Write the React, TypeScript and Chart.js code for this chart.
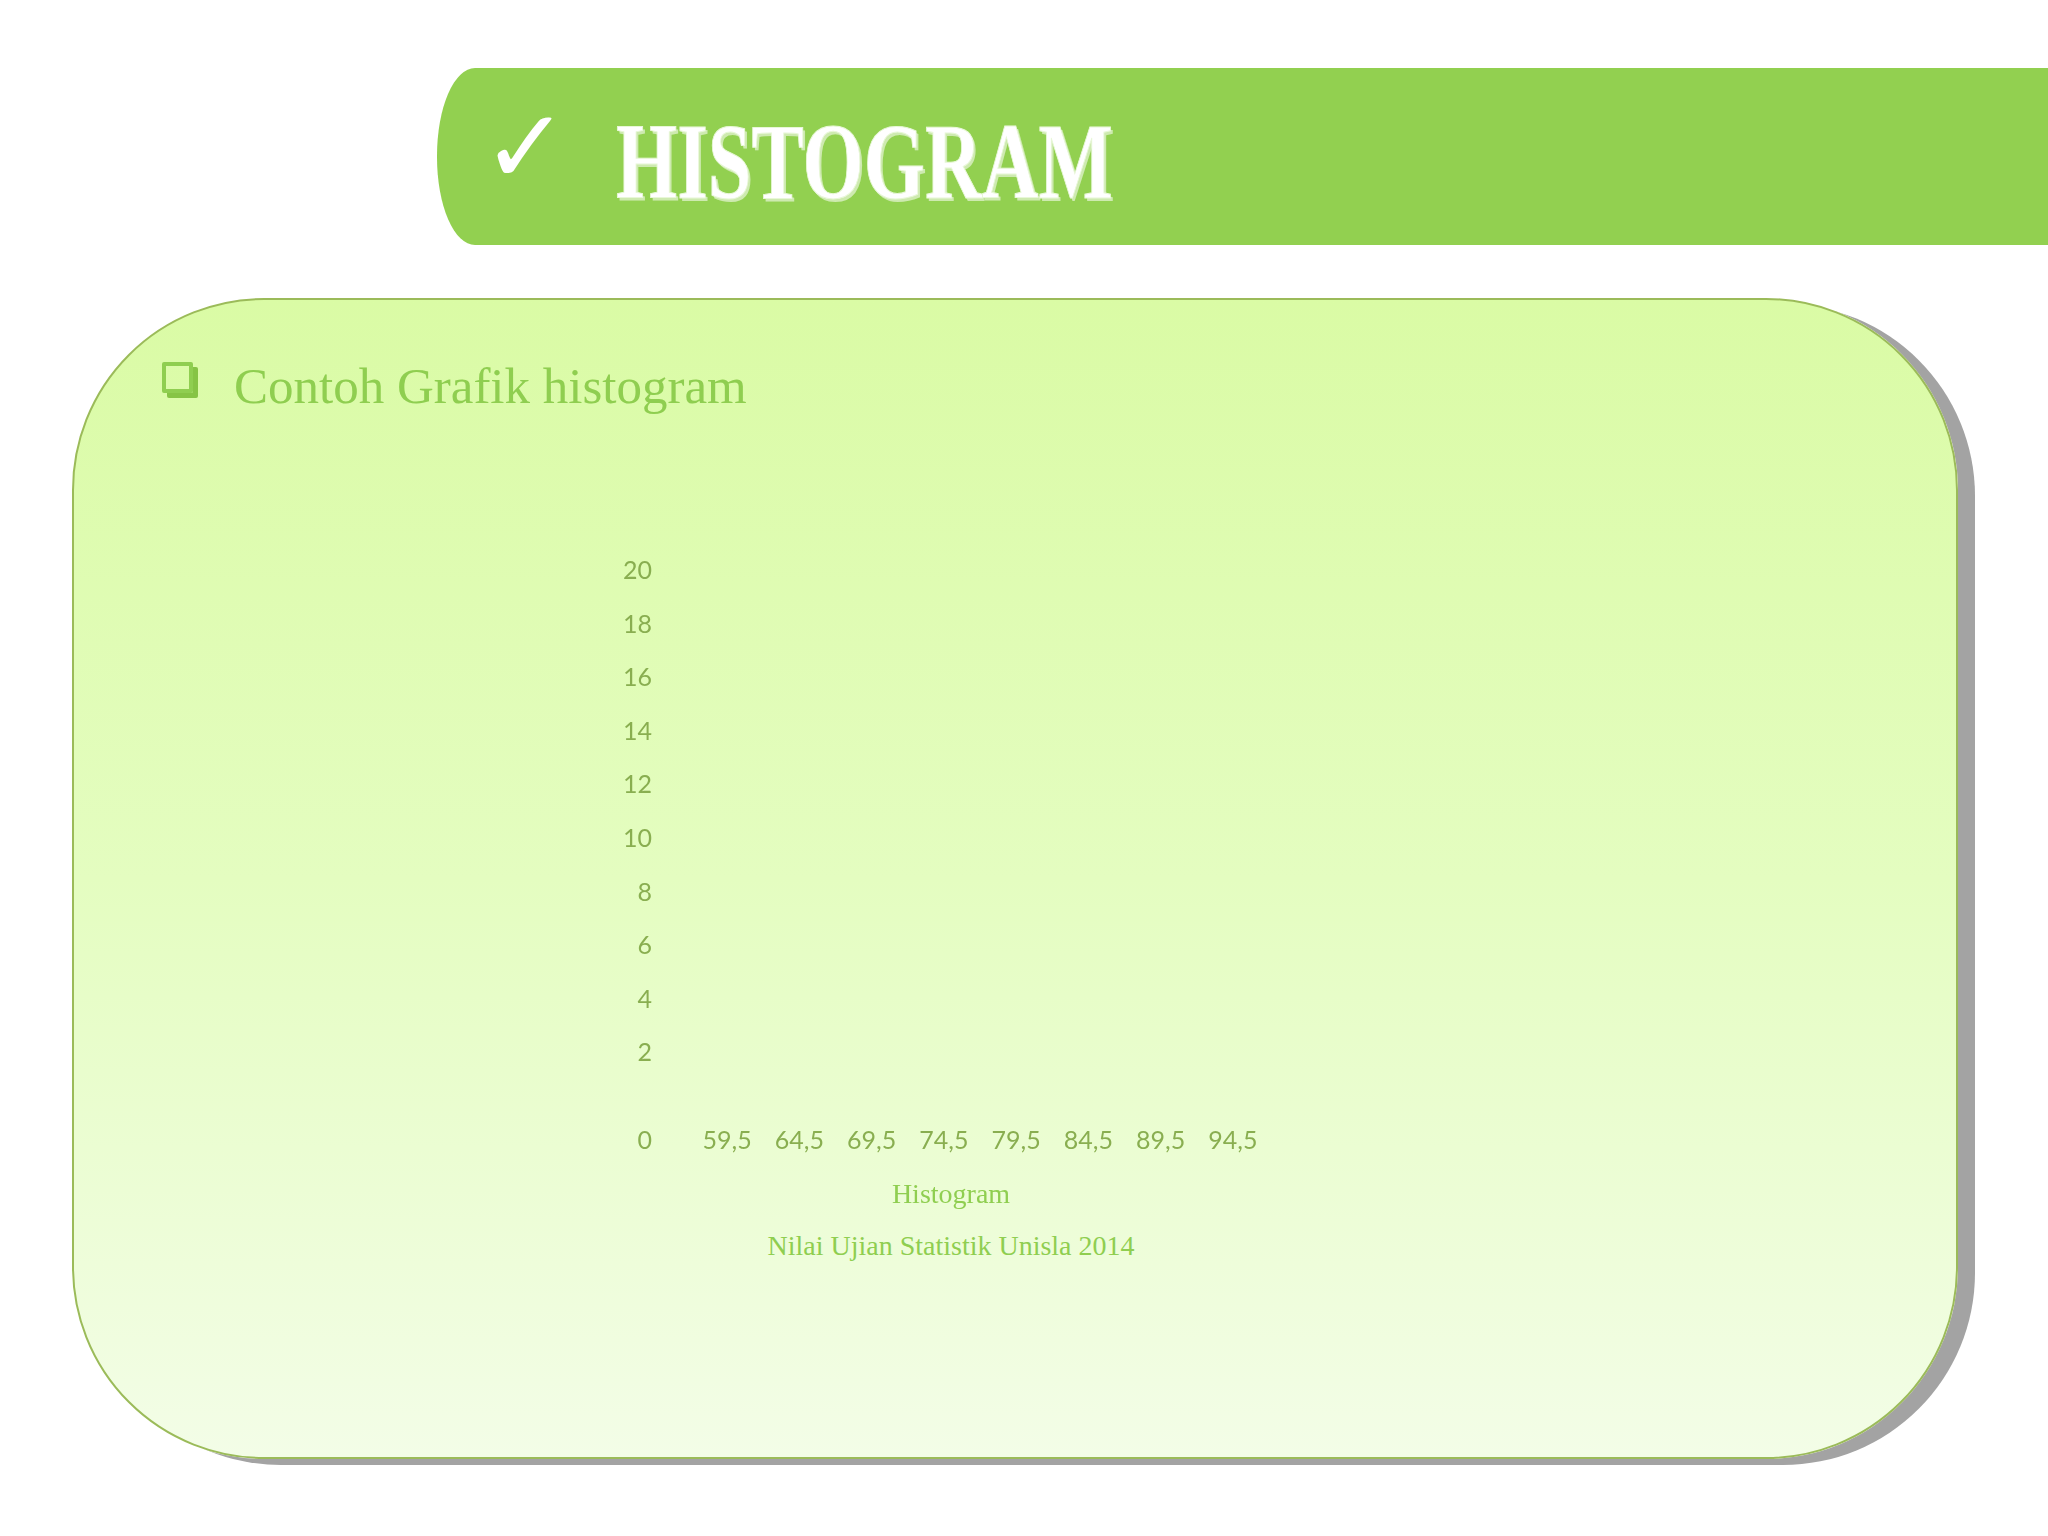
import React, { useEffect, useRef } from "react";
import { Chart, registerables } from "chart.js";

Chart.register(...registerables);

// ---- data ----
const categories: string[] = ["59,5", "64,5", "69,5", "74,5", "79,5", "84,5", "89,5", "94,5"];
// No bars are visible in the reference picture, so no frequencies are drawn.
const frequencies: (number | null)[] = [null, null, null, null, null, null, null, null];
const yMin = 0;
const yMax = 20;
const yStep = 2;

const slideTitle = "HISTOGRAM";
const bulletText = "Contoh Grafik histogram";
const captionTitle = "Histogram";
const captionSub = "Nilai Ujian Statistik Unisla 2014";

const TICK_COLOR = "#89ae50";
const TEXT_GREEN = "#8fce50";

function HistogramChart() {
  const ref = useRef<HTMLCanvasElement | null>(null);
  useEffect(() => {
    if (!ref.current) return;
    const chart = new Chart(ref.current, {
      type: "bar",
      data: {
        labels: categories,
        datasets: [
          {
            label: captionTitle,
            data: frequencies as any,
            backgroundColor: "rgba(0,0,0,0)",
            borderWidth: 0,
            barPercentage: 1,
            categoryPercentage: 1,
          },
        ],
      },
      options: {
        animation: false,
        responsive: false,
        maintainAspectRatio: false,
        layout: { padding: { left: 11, right: 31, top: 40, bottom: 6 } },
        plugins: { legend: { display: false }, tooltip: { enabled: false }, title: { display: false } },
        scales: {
          x: {
            grid: { display: false, drawTicks: false },
            border: { display: false },
            ticks: {
              color: TICK_COLOR,
              font: { family: "Lato", size: 25 },
              padding: 19,
              maxRotation: 0,
              autoSkip: false,
            },
            afterFit: (s: any) => {
              s.height = 80;
            },
          },
          y: {
            min: yMin,
            max: yMax,
            grid: { display: false, drawTicks: false },
            border: { display: false },
            ticks: {
              stepSize: yStep,
              autoSkip: false,
              color: TICK_COLOR,
              padding: 39,
              font: (ctx: any) =>
                ctx.tick && ctx.tick.value === 0
                  ? { family: "Lato", size: 25, lineHeight: "34px" }
                  : { family: "Lato", size: 25 },
              callback: (v: any) => (Number(v) === 0 ? ["", "", "0"] : String(v)),
            },
            afterFit: (s: any) => {
              s.width = 80;
            },
          },
        },
      },
    });
    return () => chart.destroy();
  }, []);
  return (
    <canvas
      ref={ref}
      width={700}
      height={680}
      style={{ position: "absolute", left: 600, top: 517, width: 700, height: 680 }}
    />
  );
}

export default function App() {
  return (
    <div
      style={{
        position: "absolute",
        left: 0,
        top: 0,
        width: 2048,
        height: 1536,
        background: "#ffffff",
        overflow: "hidden",
      }}
    >
      {/* header banner */}
      <div
        style={{
          position: "absolute",
          left: 437,
          top: 68,
          width: 2048 - 437,
          height: 177,
          background: "#92d050",
          borderRadius: "38px 0 0 38px / 88px 0 0 88px",
        }}
      />
      <div
        style={{
          position: "absolute",
          left: 482,
          top: 95,
          fontFamily: "DejaVu Sans",
          fontSize: 104,
          lineHeight: 1,
          color: "#ffffff",
          fontWeight: "bold",
        }}
      >
        ✓
      </div>
      <div
        style={{
          position: "absolute",
          left: 616,
          top: 109,
          fontFamily: "Liberation Serif",
          fontWeight: "bold",
          fontSize: 107,
          lineHeight: 1,
          color: "#ffffff",
          whiteSpace: "nowrap",
          transform: "scaleX(0.735)",
          transformOrigin: "0 0",
          textShadow: "3px 3px 0 rgba(255,255,255,0.55)",
          WebkitTextStroke: "1px #e8f7d8",
        }}
      >
        {slideTitle}
      </div>

      {/* content card */}
      <div
        style={{
          position: "absolute",
          left: 72,
          top: 298,
          width: 1886,
          height: 1161,
          boxSizing: "border-box",
          border: "2px solid #9bbb59",
          borderRadius: 192,
          background: "linear-gradient(to bottom, #dafba5 0%, #e4fdc0 50%, #f3fde7 100%)",
          boxShadow: "17px 6px 0 0 #a3a3a3",
        }}
      />

      {/* bullet */}
      <div
        style={{
          position: "absolute",
          left: 162,
          top: 362,
          width: 31,
          height: 31,
          boxSizing: "border-box",
          border: "4px solid #8fce50",
          boxShadow: "5px 5px 0 0 #86c445",
          borderRadius: 2,
        }}
      />
      <div
        style={{
          position: "absolute",
          left: 234,
          top: 361,
          fontFamily: "Liberation Serif",
          fontSize: 51,
          lineHeight: 1,
          color: TEXT_GREEN,
          whiteSpace: "nowrap",
        }}
      >
        {bulletText}
      </div>

      <HistogramChart />

      {/* captions */}
      <div
        style={{
          position: "absolute",
          left: 651,
          width: 600,
          top: 1180,
          textAlign: "center",
          fontFamily: "Liberation Serif",
          fontSize: 28,
          lineHeight: 1,
          color: TEXT_GREEN,
        }}
      >
        {captionTitle}
      </div>
      <div
        style={{
          position: "absolute",
          left: 651,
          width: 600,
          top: 1232,
          textAlign: "center",
          fontFamily: "Liberation Serif",
          fontSize: 28,
          lineHeight: 1,
          color: TEXT_GREEN,
        }}
      >
        {captionSub}
      </div>
    </div>
  );
}
